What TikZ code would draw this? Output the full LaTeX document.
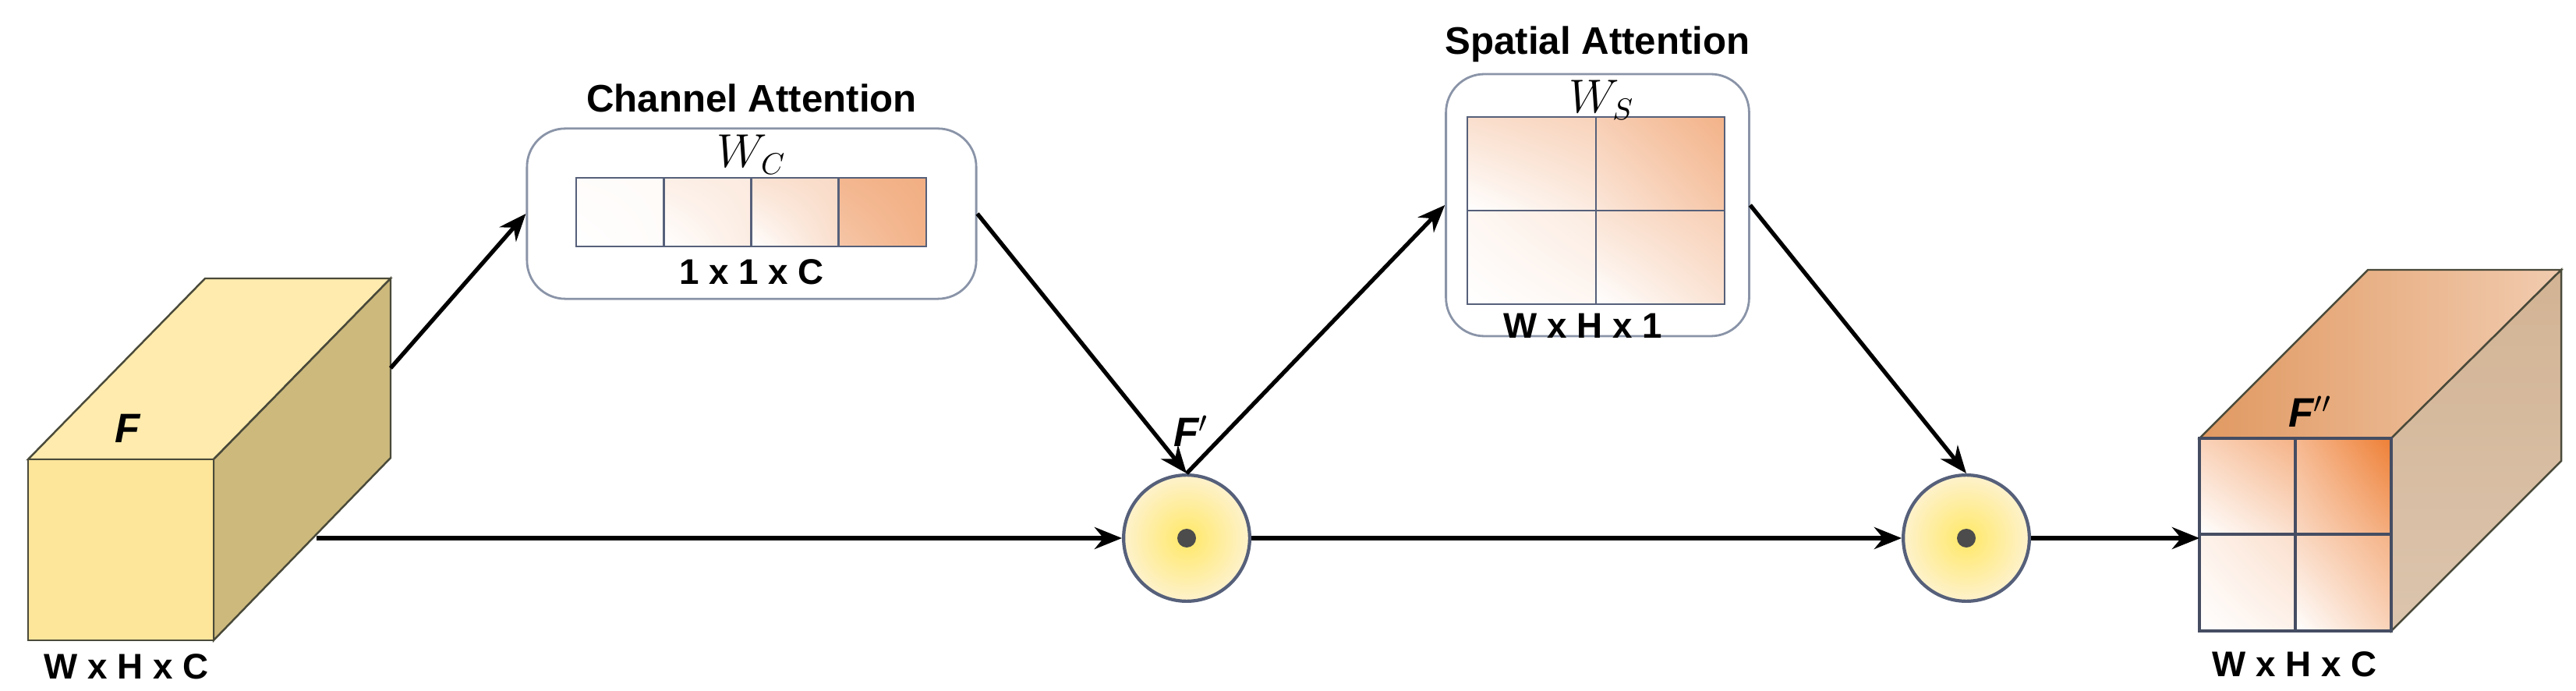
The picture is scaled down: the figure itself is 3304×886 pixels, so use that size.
\documentclass[tikz,border=0pt]{standalone}
\usepackage{fontspec}
\setmainfont{Liberation Sans}
\usetikzlibrary{arrows.meta,shadings}
\definecolor{yfront}{HTML}{FDE59A}
\definecolor{ytop}{HTML}{FEEBAD}
\definecolor{yside}{HTML}{CDB97C}
\definecolor{edge}{HTML}{4A4A3A}
\definecolor{gridc}{HTML}{56607A}
\definecolor{orng}{HTML}{EE7F35}
\definecolor{lorng}{HTML}{F2AE82}
\definecolor{boxc}{HTML}{8A94A8}
\tikzset{
  conn/.style={line width=1.5pt,-{Stealth[length=10pt,width=8pt]}},
  lbl/.style={font=\bfseries\fontsize{13}{15}\selectfont},
  ttl/.style={font=\bfseries\fontsize{14}{17}\selectfont},
  abox/.style={draw=boxc,line width=0.8pt,rounded corners=14pt,fill=white},
  opnode/.style={circle,draw=gridc,line width=1.2pt,minimum size=46pt,inner sep=0pt,inner color=yellow!70!orange!60,outer color=yfront!50},
}
\begin{document}
\begin{tikzpicture}[x=0.01cm,y=-0.01cm]
\useasboundingbox (0,0) rectangle (3304,886);
% ---- left cube F
\filldraw[fill=ytop,draw=edge,line width=0.7pt] (36,589) -- (263,357) -- (501,357) -- (274,589) -- cycle;
\filldraw[fill=yside,draw=edge,line width=0.7pt] (274,589) -- (501,357) -- (501,587) -- (274,821) -- cycle;
\filldraw[fill=yfront,draw=edge,line width=0.7pt] (36,589) rectangle (274,821);
\node[font=\bfseries\itshape\fontsize{15}{17}\selectfont] (fl) at (164,549) {F};
\node[lbl] (fdim) at (162,855) {W x H x C};
\coordinate (cubeL) at (501,472);
\coordinate (cubeLlow) at (406,690);
% ---- channel attention
\node[abox,minimum width=578pt*0.2835,minimum height=219pt*0.2835] (cab) at (964,274) {};
\node[ttl] (cat) at (964,126) {Channel Attention};
\foreach \i/\c in {0/5,1/25,2/45,3/65}{
  \shade[lower left=white,upper right=lorng!\c!white,upper left=lorng!\c!white!80,lower right=lorng!\c!white!90] (739+\i*112.25,228) rectangle ++(112.25,88);
}
\shade[lower left=lorng!70!white,upper right=lorng,upper left=lorng!90!white,lower right=lorng!95!white] (1075.75,228) rectangle (1188,316);
\draw[gridc,line width=0.8pt] (739,228) rectangle (1188,316);
\foreach \i in {1,2,3}{\draw[gridc,line width=0.8pt] (739+\i*112.25,228) -- (739+\i*112.25,316);}
\node[font=\fontsize{16}{18}\selectfont] (wc) at (964,198) {$W_C$};
\node[lbl] (cdim) at (964,349) {1 x 1 x C};
% ---- spatial attention
\node[abox,minimum width=390pt*0.2835,minimum height=337pt*0.2835] (sab) at (2049,263) {};
\node[ttl] (sat) at (2049,57) {Spatial Attention};
\shade[lower left=lorng!30!white,upper right=lorng!95,upper left=lorng!60!white,lower right=lorng!70!white] (2047,150) rectangle (2212,270);
\shade[lower left=white,upper right=lorng!55!white,upper left=lorng!40!white,lower right=lorng!25!white] (1882,150) rectangle (2047,270);
\shade[lower left=white,upper right=lorng!25!white,upper left=lorng!10!white,lower right=lorng!10!white] (1882,270) rectangle (2047,390);
\shade[lower left=white,upper right=lorng!60!white,upper left=lorng!35!white,lower right=lorng!35!white] (2047,270) rectangle (2212,390);
\draw[gridc,line width=0.8pt] (1882,150) rectangle (2212,390) (2047,150) -- (2047,390) (1882,270) -- (2212,270);
\node[font=\fontsize{16}{18}\selectfont] (ws) at (2054,128) {$W_S$};
\node[lbl] (sdim) at (2030,418) {W x H x 1};
% ---- operators
\node[opnode] (op1) at (1522,690) {};
\node[opnode] (op2) at (2522,690) {};
\fill[black!70] (op1.center) circle (12);
\fill[black!70] (op2.center) circle (12);
\node[font=\bfseries\itshape\fontsize{15}{17}\selectfont] (fp) at (1528,553) {F$'$};
% ---- right cube F''
\shade[left color=orng!55!brown!80!white,right color=orng!30!white!85!brown] (2821,562) -- (3037,346) -- (3285,346) -- (3067,562) -- cycle;
\draw[edge,line width=0.7pt] (2821,562) -- (3037,346) -- (3285,346) -- (3067,562) -- cycle;
\shade[top color=brown!55!white!90!gray,bottom color=brown!40!white!90!gray] (3067,562) -- (3285,346) -- (3285,591) -- (3067,809) -- cycle;
\draw[edge,line width=0.7pt] (3067,562) -- (3285,346) -- (3285,591) -- (3067,809) -- cycle;
\shade[lower left=orng!30!white,upper right=orng,upper left=orng!55!white,lower right=orng!65!white] (2944,562) rectangle (3067,685);
\shade[lower left=white,upper right=orng!60!white,upper left=orng!35!white,lower right=orng!25!white] (2821,562) rectangle (2944,685);
\shade[lower left=white,upper right=orng!25!white,upper left=orng!10!white,lower right=orng!10!white] (2821,685) rectangle (2944,809);
\shade[lower left=white,upper right=orng!60!white,upper left=orng!30!white,lower right=orng!35!white] (2944,685) rectangle (3067,809);
\draw[gridc!80!black,line width=1pt] (2821,562) rectangle (3067,809) (2944,562) -- (2944,809) (2821,685) -- (3067,685);
\coordinate (cubeR) at (2821,690);
\node[font=\bfseries\itshape\fontsize{15}{17}\selectfont] (fpp) at (2963,528) {F$''$};
\node[lbl] (rdim) at (2943,852) {W x H x C};
% ---- connectors
\draw[conn] (cubeL) -- (cab.west);
\draw[conn] (cab.east) -- (op1.north);
\draw[conn] (op1.north) -- (sab.west);
\draw[conn] (sab.east) -- (op2.north);
\draw[conn] (cubeLlow) -- (op1.west);
\draw[conn] (op1.east) -- (op2.west);
\draw[conn] (op2.east) -- (cubeR);
\end{tikzpicture}
\end{document}
